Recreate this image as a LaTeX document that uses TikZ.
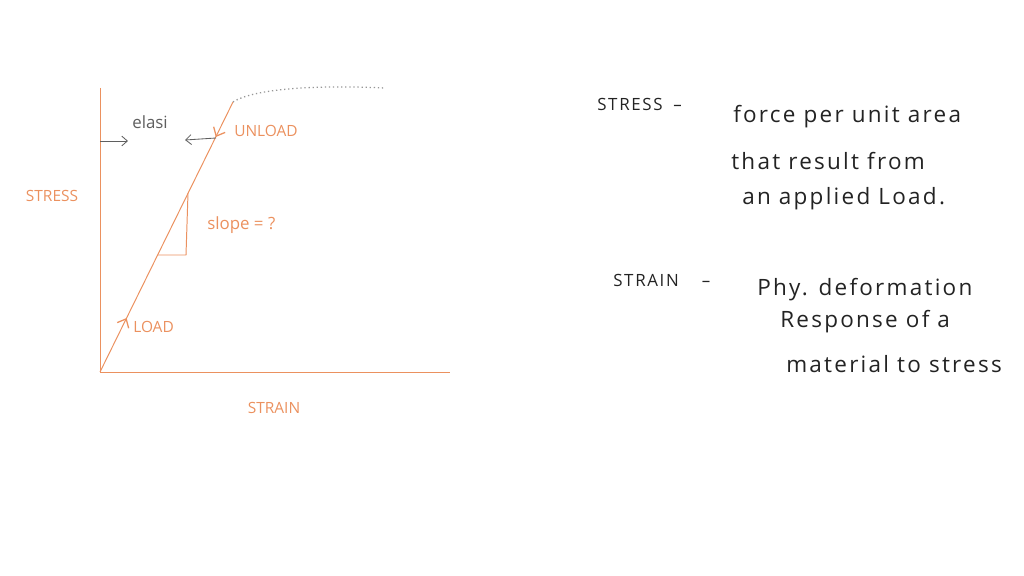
\documentclass[tikz,border=0pt]{standalone}
\usepackage{fontspec}
\setmainfont{Open Sans}
\newfontfamily\handwide[LetterSpace=10]{Open Sans}
\usepackage{tikz}
\usetikzlibrary{positioning,arrows.meta,decorations.markings}
\definecolor{penorange}{RGB}{235,145,95}
\definecolor{pengray}{RGB}{95,95,95}
\definecolor{dotgray}{RGB}{150,150,150}
\definecolor{penblack}{RGB}{35,35,35}

\begin{document}
\begin{tikzpicture}[x=0.025cm, y=-0.025cm, >={Straight Barb[length=4pt,width=7pt]},
  curve/.style={penorange, line width=0.7pt},
  lbl/.style={text=penorange, font=\fontsize{11}{13}\selectfont, inner sep=0pt},
  note/.style={text=penblack, font=\handwide\fontsize{16}{19}\selectfont, inner sep=0pt, anchor=west},
  term/.style={text=penblack, font=\handwide\fontsize{12}{14}\selectfont, inner sep=0pt}]
\useasboundingbox (0,0) rectangle (1024,576);

% axes
\coordinate (O) at (100,372);
\coordinate (ytop) at (100,88);
\coordinate (xend) at (450,372);
\draw[curve] (ytop) -- (O) -- (xend);

% elastic line and the dotted plastic part
\coordinate (yield) at (233,102);
\coordinate (tail) at (385,88);
\draw[curve, decoration={markings,
    mark=at position 0.2 with {\arrow[penorange, line width=0.7pt, scale=1.3]{>}},
    mark=at position 0.9 with {\arrow[penorange, line width=0.7pt, scale=1.3]{<}}},
  postaction={decorate}] (O) -- (yield);
\draw[dotgray, dotted, line width=0.9pt] (yield) .. controls (255,88) and (320,85) .. (tail);

% slope triangle
\coordinate (tA) at (188,193);
\coordinate (tB) at (186,255);
\coordinate (tC) at (158,255);
\draw[curve] (tA) -- (tB) -- (tC);

% labels on the graph
\node[lbl] (stressax) at (52,196) {STRESS};
\node[lbl] (strainax) at (274,408) {STRAIN};
\node[lbl, anchor=west] (unload) at (234,131) {UNLOAD};
\node[lbl, anchor=west] (load) at (133,327) {LOAD};
\node[lbl, anchor=west, font=\fontsize{12}{14}\selectfont] (slope) at (207,225) {slope = ?};
\node[text=pengray, font=\fontsize{12}{14}\selectfont, inner sep=0pt] (elas) at (150,122) {elasi};

% elastic range arrows
\coordinate (eL) at (100,141);
\coordinate (eLend) at (128,141);
\coordinate (eR) at (216,138);
\coordinate (eRend) at (185,140);
\draw[pengray, ->, line width=0.6pt] (eL) -- (eLend);
\draw[pengray, ->, line width=0.6pt] (eR) -- (eRend);

% definitions (right)
\node[term, anchor=west] (stressdef) at (597,104) {STRESS \;\textendash};
\node[note] (s1) at (733,117) {force per unit area};
\node[note] (s2) at (731,161) {that result from};
\node[note] (s3) at (742,199) {an applied Load.};

\node[term, anchor=west] (straindef) at (613,280) {STRAIN \quad\textendash};
\node[note] (t1) at (757,290) {Phy. deformation};
\node[note] (t2) at (780,322) {Response of a};
\node[note] (t3) at (786,364) {material to stress};
\end{tikzpicture}
\end{document}
